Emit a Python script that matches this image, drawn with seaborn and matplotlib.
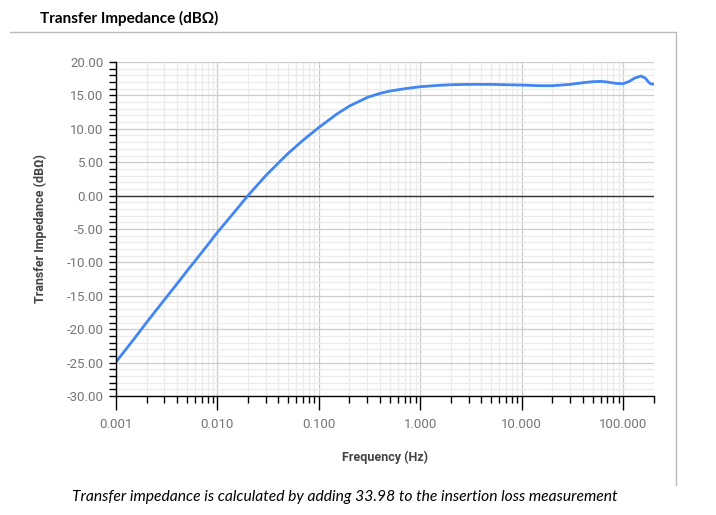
import numpy as np
import pandas as pd
import matplotlib
matplotlib.use("Agg")
import matplotlib.pyplot as plt
import matplotlib.ticker as mticker
from matplotlib.lines import Line2D
import seaborn as sns

sns.set_theme(style="white")
plt.rcParams['font.family'] = ['Roboto', 'DejaVu Sans']
plt.rcParams['axes.unicode_minus'] = False

# values
freq = [0.001, 0.0015, 0.002, 0.003, 0.004, 0.005, 0.006, 0.008, 0.01, 0.015,
        0.02, 0.03, 0.04, 0.05, 0.07, 0.1, 0.15, 0.2, 0.3, 0.4, 0.5, 0.7,
        1.0, 1.5, 2, 3, 5, 7, 10, 15, 20, 30, 40, 50, 60, 70, 85, 100,
        115, 130, 150, 165, 180, 190, 200]
impedance = [-24.9, -21.5, -19.0, -15.6, -13.2, -11.3, -9.8, -7.4, -5.5, -2.3,
             0.0, 3.0, 4.9, 6.35, 8.3, 10.2, 12.2, 13.4, 14.7, 15.3, 15.65, 16.0,
             16.3, 16.5, 16.6, 16.65, 16.65, 16.6, 16.55, 16.45, 16.45, 16.65, 16.9, 17.05,
             17.1, 17.0, 16.8, 16.75, 17.1, 17.6, 17.9, 17.6, 16.9, 16.7, 16.7]
x_ticks = [0.001, 0.01, 0.1, 1, 10, 100]
y_ticks = [-30, -25, -20, -15, -10, -5, 0, 5, 10, 15, 20]

df = pd.DataFrame({'Frequency (Hz)': freq, 'Transfer Impedance (dBΩ)': impedance})

fig = plt.figure(figsize=(7.16, 5.15), dpi=100)
ax = fig.add_axes([0.162, 0.2311, 0.751, 0.6485])

sns.lineplot(data=df, x='Frequency (Hz)', y='Transfer Impedance (dBΩ)', ax=ax,
             color='#4285F4', linewidth=2, sort=False)

ax.set_xscale('log')
ax.set_xlim(0.001, 200)
ax.set_ylim(-30, 20)

ax.set_xticks(x_ticks)
ax.xaxis.set_major_formatter(mticker.FuncFormatter(lambda v, p: f"{v:.3f}"))
ax.xaxis.set_minor_locator(mticker.LogLocator(base=10, subs=np.arange(2, 10), numticks=20))
ax.xaxis.set_minor_formatter(mticker.NullFormatter())
ax.set_yticks(y_ticks)
ax.yaxis.set_major_formatter(mticker.FuncFormatter(lambda v, p: f"{v:.2f}"))
ax.yaxis.set_minor_locator(mticker.MultipleLocator(1))

ax.grid(which='major', color='#cccccc', linewidth=0.9)
ax.grid(which='minor', color='#ebebeb', linewidth=0.9)
ax.set_axisbelow(True)
ax.axhline(0, color='#333333', linewidth=1, zorder=1.5)

for s in ['top', 'right']:
    ax.spines[s].set_visible(False)
for s in ['left', 'bottom']:
    ax.spines[s].set_color('black')
    ax.spines[s].set_linewidth(1)

ax.tick_params(axis='y', which='both', direction='out', length=5, width=1,
               color='black', left=True, labelsize=9.5, labelcolor='#757575', pad=4)
ax.tick_params(axis='x', which='major', direction='out', length=10, width=1,
               color='black', bottom=True, labelsize=9.5, labelcolor='#757575', pad=6)
ax.tick_params(axis='x', which='minor', direction='out', length=5, width=1,
               color='black', bottom=True)

ax.set_xlabel('Frequency (Hz)', fontsize=9, fontweight='bold', color='#444444', labelpad=14)
ax.set_ylabel('Transfer Impedance (dBΩ)', fontsize=9, fontweight='bold', color='#444444', labelpad=14)

fig.text(40 / 716, 1 - 18 / 515, 'Transfer Impedance (dBΩ)', fontsize=11,
         fontweight='bold', family=['Lato', 'DejaVu Sans'], color='black',
         ha='left', va='center')
fig.text(345 / 716, 1 - 497 / 515,
         'Transfer impedance is calculated by adding 33.98 to the insertion loss measurement',
         fontsize=11.25, style='italic', family=['Lato', 'DejaVu Sans'], color='black',
         ha='center', va='center')

fig.add_artist(Line2D([10 / 716, 676 / 716], [1 - 32 / 515, 1 - 32 / 515],
                      color='#bbbbbb', linewidth=1))
fig.add_artist(Line2D([676 / 716, 676 / 716], [1 - 32 / 515, 1 - 485 / 515],
                      color='#bbbbbb', linewidth=1))

fig.savefig('out.png', dpi=100)
